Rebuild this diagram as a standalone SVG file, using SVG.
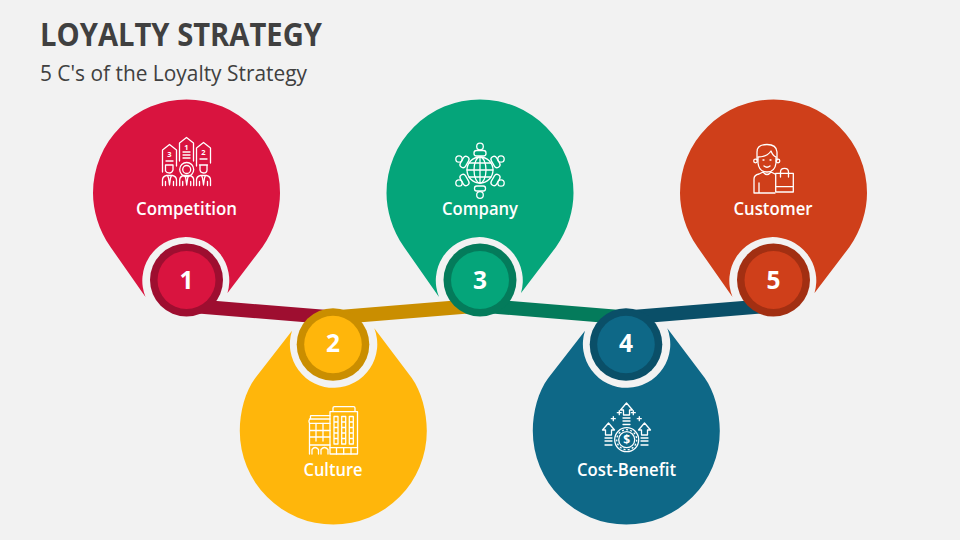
<svg xmlns="http://www.w3.org/2000/svg" width="960" height="540" viewBox="0 0 960 540">
<style>
text{font-family:"Open Sans","Noto Sans","Liberation Sans",sans-serif}
.title{font-size:32px;font-weight:700;fill:#404040}
.sub{font-size:21.500px;fill:#404040}
.lbl{font-size:18px;font-weight:600;fill:#fff;text-anchor:middle}
.num{font-size:24.500px;font-weight:700;fill:#fff;text-anchor:middle}
.mini{font-size:7.500px;font-weight:700;fill:#fff;text-anchor:middle}
.ic{fill:none;stroke:#fff;stroke-width:1.300;stroke-linecap:round;stroke-linejoin:round}
.conn{stroke-width:14;fill:none}
</style>
<defs>
<path id="pin" d="M-41 17L-76 -33C-88 -50 -93.500 -70 -93.500 -87A93.500 93.500 0 1 1 93.500 -87C93.500 -70 88 -50 76 -33L41 13A43.500 43.500 0 1 0 -41 17Z"/>
<path id="pinb" d="M-41.300 -13.800L-78 33.500C-88 47 -93.500 67 -93.500 86.500A93.500 93.500 0 1 0 93.500 86.500C93.500 67 88 47 78.500 33.500L41 -16.200A43.700 43.700 0 1 1 -41.300 -13.800Z"/>
<g id="person"><path d="M-7 8.500V3Q-7 -0.500 -3 -1.500H3Q7 -0.500 7 3V8.500M-4 8.500V4.500M4 8.500V4.500M-2 -1.500L-1 1L0 8L1 1L2 -1.500"/></g>
<path id="arrow" d="M0 -7L6 0H3V5H-3V0H-6Z"/>
</defs>
<rect width="960" height="540" fill="#f2f2f2"/>
<text class="title" x="40" y="46" textLength="282" lengthAdjust="spacingAndGlyphs">LOYALTY STRATEGY</text>
<text class="sub" x="40" y="81" textLength="267" lengthAdjust="spacingAndGlyphs">5 C's of the Loyalty Strategy</text>
<g id="pin1"><use href="#pin" transform="translate(186.500 280)" fill="#d9143f"/></g>
<g id="pin3"><use href="#pin" transform="translate(480 280)" fill="#05a57a"/></g>
<g id="pin5"><use href="#pin" transform="translate(773.500 280)" fill="#cf3f1a"/></g>
<g id="pin2"><use href="#pinb" transform="translate(333.300 344.500)" fill="#ffb60b"/></g>
<g id="pin4"><use href="#pinb" transform="translate(626.300 344.500)" fill="#0e6887"/></g>
<g id="connectors">
<path class="conn" stroke="#9e0e30" d="M186.500 305.400L333.300 317.600"/>
<path class="conn" stroke="#ca8e00" d="M333.300 317.600L480 305.400"/>
<path class="conn" stroke="#047b5b" d="M480 305.400L626.300 317.600"/>
<path class="conn" stroke="#0a4f68" d="M626.300 317.600L773.500 305.400"/>
</g>
<g id="node1">
<circle cx="186.500" cy="280" r="36.500" fill="#9e0e30"/><circle cx="186.500" cy="280" r="29" fill="#d9143f"/>
<text class="num" x="186.500" y="288.500">1</text>
<text class="lbl" x="186.500" y="214.500" textLength="101" lengthAdjust="spacingAndGlyphs">Competition</text>
<g class="ic">
<path d="M162.500 172V150L169.500 144.500L176.500 150V166M179.500 161V143L186.500 137.500L193.500 143V161M196.500 166V148L203.500 142.500L210.500 148V163"/>
<path d="M166 161H173M183 152H190M183 155H190M183 158H190M200 159H207"/>
<path d="M165.500 171V165H173V170Q172 173 169.500 173Q166.500 173 165.500 171Z"/>
<circle cx="186.700" cy="169.500" r="7"/><circle cx="186.700" cy="169.500" r="4"/>
<path d="M199.500 165H207.500M200 165V170Q200.500 173 203.500 173Q207 173 207 170V165"/>
<use href="#person" transform="translate(169.500 177)"/>
<use href="#person" transform="translate(186.700 177)"/>
<use href="#person" transform="translate(203.500 177)"/>
</g>
<text class="mini" x="169.500" y="156.500">3</text><text class="mini" x="186.500" y="150">1</text><text class="mini" x="203.500" y="155">2</text>
</g>
<g id="node2">
<circle cx="333" cy="344.500" r="36.300" fill="#ca8e00"/><circle cx="333" cy="344.500" r="28.800" fill="#ffb60b"/>
<text class="num" x="333" y="352">2</text>
<text class="lbl" x="333" y="476" textLength="59" lengthAdjust="spacingAndGlyphs">Culture</text>
<g class="ic">
<path d="M330 454V411.700H357.500V454ZM333 411.700V408Q333 406.700 334.500 406.700H353.500Q355 406.700 355 408V411.700"/>
<path d="M309.500 454V423.300H330M309.500 423.300Q308 420 310.500 419V416Q310.500 415.700 311 415.700H330M309.500 419H330M309.500 445H330"/>
<path d="M316 423.300V441M323 423.300V441M310 430.500H330M310 437H330M312 454V449.500Q315 445.500 318.500 449.500V454M321 454V449.500Q324.500 445.500 328 449.500V454"/>
<path d="M330 447.700H357.500M336.500 447.700V454M343.700 447.700V454M351 447.700V454"/>
<path d="M334 416.500H338V444H334ZM341.700 416.500H345.700V444H341.700ZM349.300 416.500H353.300V444H349.300ZM334 422H338M341.700 422H345.700M349.300 422H353.300M334 427.500H338M341.700 427.500H345.700M349.300 427.500H353.300M334 433H338M341.700 433H345.700M349.300 433H353.300M334 438.500H338M341.700 438.500H345.700M349.300 438.500H353.300"/>
</g>
</g>
<g id="node3">
<circle cx="480" cy="280" r="36.500" fill="#047b5b"/><circle cx="480" cy="280" r="29" fill="#05a57a"/>
<text class="num" x="480" y="288.500">3</text>
<text class="lbl" x="480" y="214.500" textLength="76" lengthAdjust="spacingAndGlyphs">Company</text>
<g class="ic">
<circle cx="480" cy="170" r="13"/><ellipse cx="480" cy="170" rx="6" ry="13"/>
<path d="M467 170H493M469 163H491M469 177H491M480 157V183"/>
<circle cx="480" cy="146.500" r="3.300"/><rect x="474" y="150.500" width="12" height="5.500" rx="2.500"/>
<circle cx="459" cy="159" r="3.200"/><rect x="458.500" y="159" width="12" height="6" rx="3" transform="rotate(-60 464.500 162)"/>
<circle cx="501" cy="159" r="3.200"/><rect x="489.500" y="159" width="12" height="6" rx="3" transform="rotate(60 495.500 162)"/>
<circle cx="459" cy="183" r="3.200"/><rect x="458.500" y="177" width="12" height="6" rx="3" transform="rotate(60 464.500 180)"/>
<circle cx="501" cy="183" r="3.200"/><rect x="489.500" y="177" width="12" height="6" rx="3" transform="rotate(-60 495.500 180)"/>
<rect x="474.500" y="186" width="11" height="5" rx="2.200"/><circle cx="480" cy="195" r="3.300"/>
</g>
</g>
<g id="node4">
<circle cx="626" cy="344.500" r="36.300" fill="#0a4f68"/><circle cx="626" cy="344.500" r="28.800" fill="#0e6887"/>
<text class="num" x="626" y="352">4</text>
<text class="lbl" x="626.500" y="476" textLength="99" lengthAdjust="spacingAndGlyphs">Cost-Benefit</text>
<g class="ic">
<use href="#arrow" transform="translate(626.500 410)"/><use href="#arrow" transform="translate(608.500 430)"/><use href="#arrow" transform="translate(644.500 430)"/>
<path d="M623 418H630M623 421H630M623 424.500H630M605 438H612M605 441H612M605 445H612M641 438H648M641 441H648M641 445H648"/>
<circle cx="626.700" cy="439.700" r="12"/><circle cx="626.700" cy="439.700" r="8"/>
<circle cx="626.700" cy="439.700" r="10" stroke-dasharray="2 2.200" stroke-linecap="butt"/>
<path d="M611.300 418.700H615.300M613.300 416.700V420.700M617.300 412.700H621.300M619.300 410.700V414.700M631.300 412.700H635.300M633.300 410.700V414.700M637.300 418.700H641.300M639.300 416.700V420.700"/>
</g>
<text class="mini" x="626.700" y="444" style="font-size:12px">$</text>
</g>
<g id="node5">
<circle cx="773.500" cy="280" r="36.500" fill="#a22f12"/><circle cx="773.500" cy="280" r="29" fill="#cf3f1a"/>
<text class="num" x="773.500" y="288.500">5</text>
<text class="lbl" x="773" y="214.500" textLength="79" lengthAdjust="spacingAndGlyphs">Customer</text>
<g class="ic">
<path d="M757 160V152Q757 144.500 767 144.500Q776.500 144.500 777 152V160"/>
<path d="M758 157Q767 157 771 151Q773 156 776 157M758 157V163Q759 172 767 172Q775 172 776 163V157"/>
<circle cx="755.500" cy="161" r="1.800"/><circle cx="778" cy="161" r="1.800"/>
<path d="M763 160H764M770 160H771M764 166Q767 168.500 770 166M754 193V179Q754 175 759 174L763 172Q767 177 771 172L775 174M759 183V193M754 193H775"/>
<path d="M775.700 173.300H793.300V192H775.700ZM775.700 186.700H793.300M780.500 177V172Q780.500 168.300 784.500 168.300Q788.500 168.300 788.500 172V177"/>
</g>
</g>
</svg>
